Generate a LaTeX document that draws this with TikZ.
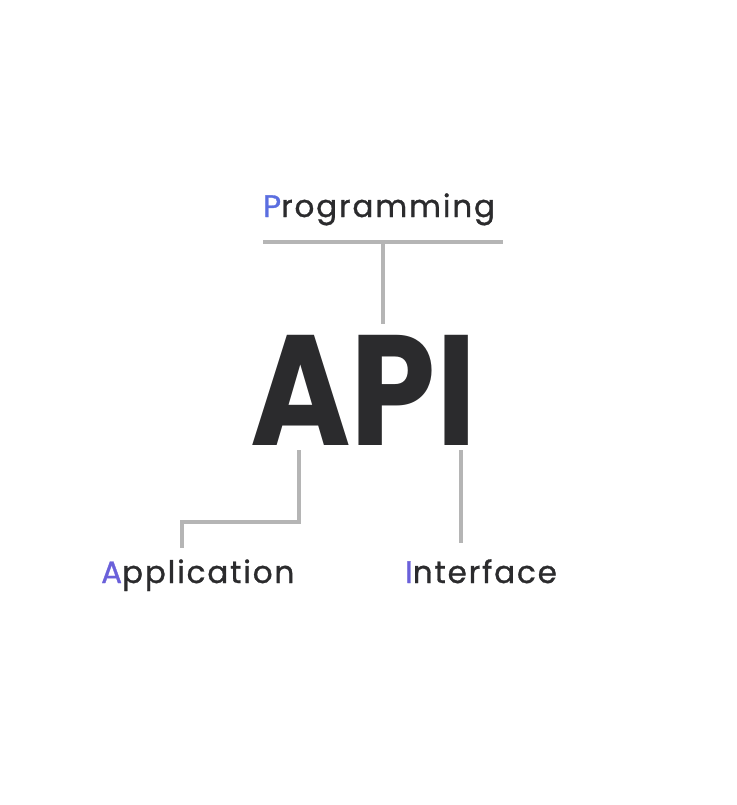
\documentclass[tikz,border=0pt]{standalone}
\usepackage{fontspec}
\setmainfont{Poppins}
\newfontfamily\wordfont[LetterSpace=6,FakeBold=1]{Poppins}
\usetikzlibrary{positioning}
\definecolor{bracket}{HTML}{B5B5B5}
\definecolor{initP}{HTML}{5B6EE0}
\definecolor{initA}{HTML}{6A60DA}
\definecolor{ink}{HTML}{2B2B2D}
\begin{document}
\begin{tikzpicture}[x=1pt,y=-1pt,
	word/.style={anchor=base west, inner sep=0pt, text=ink, font=\wordfont\fontsize{31}{36}\selectfont},
	title/.style={anchor=base west, inner sep=0pt, text=ink, font=\fontsize{157}{170}\selectfont\bfseries},
	link/.style={draw=bracket, line width=4pt}
	]
\useasboundingbox (0,0) rectangle (736,805);

% words
\node [word] (prog) at (263,217) {\textcolor{initP}{P}rogramming};
\node [title] (api) at (250,445) {\scalebox{0.87}[1]{API}};
\node [word] (appl) at (101,583) {\textcolor{initA}{A}pplication};
\node [word] (intf) at (405,583) {\textcolor{initA}{I}nterface};

% bracket points
\coordinate (pl) at (263,242);
\coordinate (pr) at (503,242);
\coordinate (pm) at (383,242);
\coordinate (pa) at (383,324);
\coordinate (aa) at (299,450);
\coordinate (ab) at (299,522);
\coordinate (ac) at (182,522);
\coordinate (ad) at (182,548);
\coordinate (ia) at (461,450);
\coordinate (ib) at (461,543);

% connectors
\draw[link] (pl) -- (pr);
\draw[link] (pm) -- (pa);
\draw[link] (aa) -- (ab) -- (ac) -- (ad);
\draw[link] (ia) -- (ib);
\end{tikzpicture}
\end{document}
